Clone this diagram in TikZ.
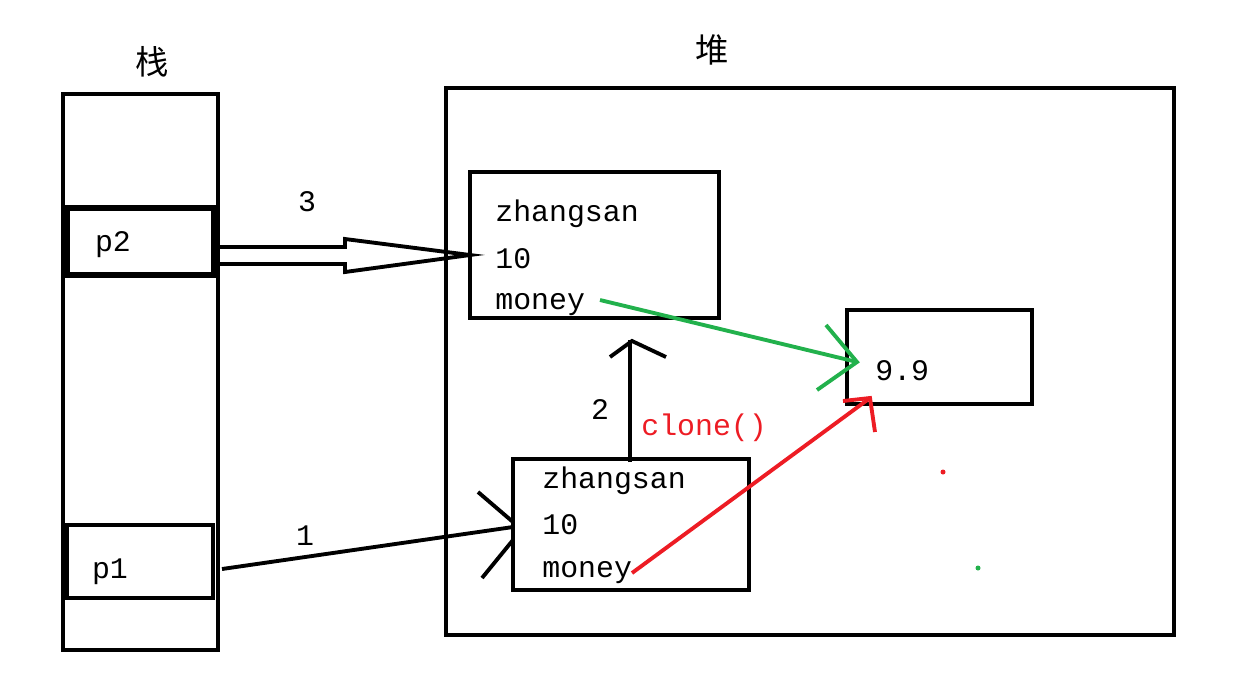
\documentclass[tikz,border=0pt]{standalone}
\usepackage{fontspec}
\setmainfont{Liberation Mono}
\newfontfamily\cjk{Noto Sans CJK SC}
\usetikzlibrary{positioning}
\tikzset{>=stealth}
\definecolor{myred}{RGB}{237,28,36}
\definecolor{mygreen}{RGB}{34,177,76}
\tikzset{
  box/.style={draw,line width=2.4pt},
  txt/.style={font=\fontsize{17}{17}\selectfont,inner sep=0pt},
  pen/.style={line width=2.2pt},
}
\begin{document}
\begin{tikzpicture}[x=0.02cm,y=-0.02cm]
      \useasboundingbox (0,0) rectangle (1237,674);
      % stack and heap
      \node[txt,font=\cjk\fontsize{19}{19}\selectfont] (zhan) at (152,62) {栈};
      \node[txt,font=\cjk\fontsize{19}{19}\selectfont] (dui) at (712,50) {堆};
      \draw[box] (63,94) rectangle (218,650);
      \draw[box] (446,88) rectangle (1174,635);
      \draw[box,line width=3.2pt] (67,208) rectangle (214,275);
      \draw[box] (67,525) rectangle (213,598);
      \node[txt] (p2) at (113,245) {p2};
      \node[txt] (p1) at (110,572) {p1};
      % objects
      \draw[box] (470,172) rectangle (719,318);
      \draw[box] (513,459) rectangle (749,590);
      \draw[box] (847,310) rectangle (1032,404);
      \node[txt,anchor=west] (za) at (495,214) {zhangsan};
      \node[txt,anchor=west] (ta) at (495,259) {10};
      \node[txt,anchor=west] (ma) at (495,305) {money};
      \node[txt,anchor=west] (zb) at (542,481) {zhangsan};
      \node[txt,anchor=west] (tb) at (542,525) {10};
      \node[txt,anchor=west] (mb) at (542,573) {money};
      \node[txt,anchor=west] (val) at (875,371) {9.9};
      % connectors
      \coordinate (s2) at (218,255);
      \coordinate (o2) at (470,255);
      \coordinate (s1) at (222,569);
      \coordinate (o1) at (513,527);
      \coordinate (cb) at (630,462);
      \coordinate (ct) at (630,340);
      \coordinate (gm) at (600,300);
      \coordinate (gv) at (857,362);
      \coordinate (rm) at (632,573);
      \coordinate (rv) at (870,398);
      \draw[pen,line join=miter] (218,247) -- (345,247) -- (345,239) -- (o2)
        -- (345,272) -- (345,264) -- (218,264);
      \draw[pen] (s1) -- (o1);
      \draw[pen] (478,492) -- (513,522) (482,578) -- (513,540);
      \draw[pen] (cb) -- (ct);
      \draw[pen] (610,357) -- (632,341) -- (666,357);
      \draw[pen,mygreen] (gm) -- (gv);
      \draw[pen,mygreen] (826,325) -- (gv) -- (817,390);
      \draw[pen,myred] (rm) -- (rv);
      \draw[pen,myred] (843,401) -- (rv) -- (875,432);
      \fill[myred] (943,472) circle (2.5);
      \fill[mygreen] (978,568) circle (2.5);
      \node[txt] (l3) at (307,202) {3};
      \node[txt] (l1) at (305,536) {1};
      \node[txt] (l2) at (600,409) {2};
      \node[txt,myred,anchor=west] (cl) at (641,428) {clone()};
    \end{tikzpicture}
\end{document}
